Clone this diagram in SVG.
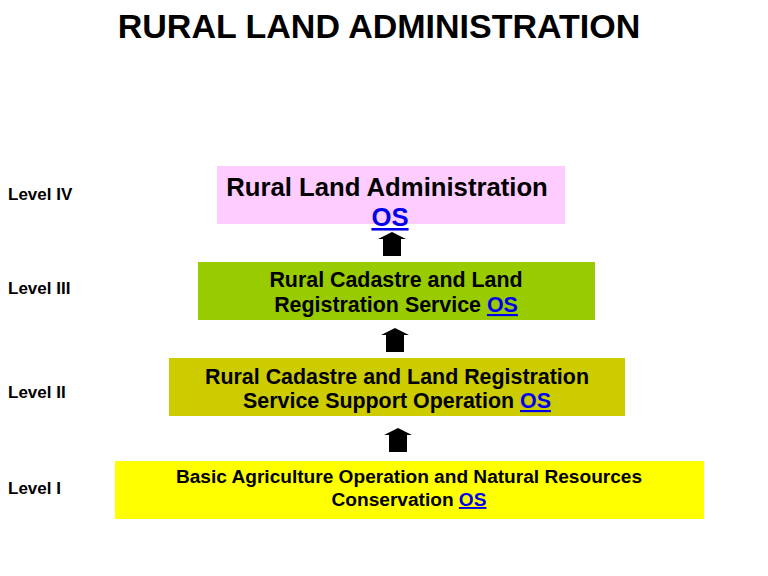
<svg xmlns="http://www.w3.org/2000/svg" width="768" height="576" viewBox="0 0 768 576">
<defs>
<style>
text{font-family:"Liberation Sans",Arial,sans-serif;font-weight:bold;fill:#000}
.os{fill:#0000EE;text-decoration:underline}
.lvl{font-size:17px}
.arrow{fill:#000}
</style>
<path id="arr" d="M0,0 L14,7 L9,7 L9,24 L-9,24 L-9,7 L-14,7 Z"/>
</defs>
<rect width="768" height="576" fill="#fff"/>
<text x="379" y="38" font-size="34" text-anchor="middle">RURAL LAND ADMINISTRATION</text>
<g id="labels">
<text class="lvl" x="8" y="200">Level IV</text>
<text class="lvl" x="8" y="294">Level III</text>
<text class="lvl" x="8" y="398">Level II</text>
<text class="lvl" x="8" y="494">Level I</text>
</g>
<g id="level4">
<rect x="217" y="166" width="348" height="58" fill="#FFCCFF"/>
<text x="387" y="196" font-size="25.7" text-anchor="middle">Rural Land Administration</text>
<text x="390" y="226" font-size="25.7" text-anchor="middle" class="os">OS</text>
</g>
<g id="level3">
<rect x="198" y="262" width="397" height="58" fill="#99CC00"/>
<text x="396" y="287" font-size="21.4" text-anchor="middle">Rural Cadastre and Land</text>
<text x="396" y="312" font-size="21.4" text-anchor="middle">Registration Service <tspan class="os">OS</tspan></text>
</g>
<g id="level2">
<rect x="169" y="358" width="456" height="58" fill="#CCCC00"/>
<text x="397" y="384" font-size="21.4" text-anchor="middle">Rural Cadastre and Land Registration</text>
<text x="397" y="408" font-size="21.4" text-anchor="middle">Service Support Operation <tspan class="os">OS</tspan></text>
</g>
<g id="level1">
<rect x="115" y="461" width="589" height="58" fill="#FFFF00"/>
<text x="409" y="483" font-size="19.1" text-anchor="middle">Basic Agriculture Operation and Natural Resources</text>
<text x="409" y="506" font-size="19.1" text-anchor="middle">Conservation <tspan class="os">OS</tspan></text>
</g>
<g id="connectors">
<use href="#arr" class="arrow" x="392" y="232"/>
<use href="#arr" class="arrow" x="395" y="328"/>
<use href="#arr" class="arrow" x="398" y="428"/>
</g>
</svg>
